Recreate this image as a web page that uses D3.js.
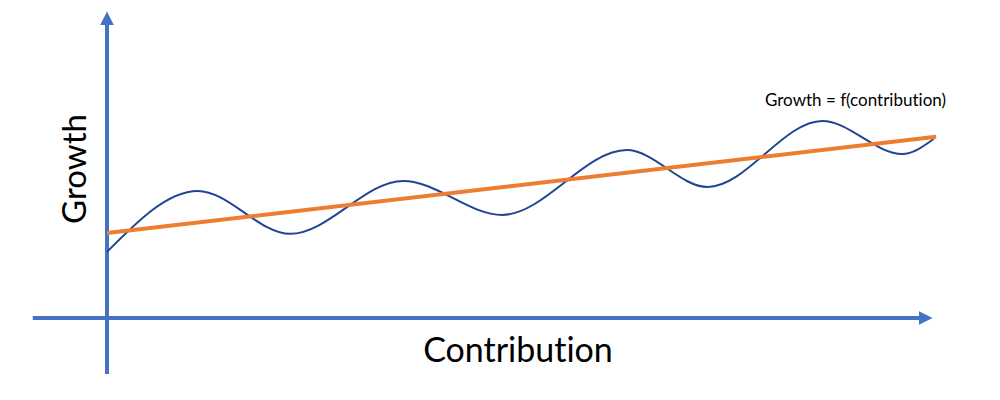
<!DOCTYPE html>
<html>
<head>
<meta charset="utf-8">
<script src="https://cdn.jsdelivr.net/npm/d3@7"></script>
<style>
  body { margin: 0; background: #fff; }
  svg { display: block; }
  text { font-variant-ligatures: none; }
</style>
</head>
<body>
<div id="chart"></div>
<script>
const W = 1000;
const H = 400;

// wavy "observed" curve (contribution, growth), arbitrary units 0..100
const waveX = [0, 11.0, 22.2, 35.9, 47.9, 63.0, 72.8, 86.7, 96.4, 100.2];
const waveY = [21.6, 41.5, 27.5, 44.8, 33.7, 54.9, 42.8, 64.4, 53.6, 58.5];

// fitted straight line
const fitX = [0, 100.5];
const fitY = [27.8, 59.2];

const xLabel = "Contribution";
const yLabel = "Growth";
const fitLabel = "Growth = f(contribution)";

const axisColor = "#4472c4";

const x = d3.scaleLinear().domain([0, 100]).range([107, 932]);
const y = d3.scaleLinear().domain([0, 100]).range([318, 12]);

const svg = d3.select("#chart")
    .append("svg")
    .attr("width", W)
    .attr("height", H);

const defs = svg.append("defs");
defs.append("marker")
    .attr("id", "arrow")
    .attr("viewBox", "0 0 10 10")
    .attr("refX", 0)
    .attr("refY", 5)
    .attr("markerWidth", 3.4)
    .attr("markerHeight", 3.6)
    .attr("markerUnits", "strokeWidth")
    .attr("orient", "auto")
    .append("path")
    .attr("d", "M0,0 L10,5 L0,10 Z")
    .attr("fill", axisColor);

// x axis
svg.append("line")
    .attr("x1", x(-9))
    .attr("y1", y(0))
    .attr("x2", x(100) - 13)
    .attr("y2", y(0))
    .attr("stroke", axisColor)
    .attr("stroke-width", 4)
    .attr("marker-end", "url(#arrow)");

// y axis
svg.append("line")
    .attr("x1", x(0))
    .attr("y1", y(-18.3))
    .attr("x2", x(0))
    .attr("y2", y(100) + 13)
    .attr("stroke", axisColor)
    .attr("stroke-width", 4)
    .attr("marker-end", "url(#arrow)");

const wave = waveX.map((d, i) => [d, waveY[i]]);
const fit = fitX.map((d, i) => [d, fitY[i]]);

const line = d3.line()
    .x((d) => x(d[0]))
    .y((d) => y(d[1]));

svg.append("path")
    .datum(wave)
    .attr("d", line.curve(d3.curveMonotoneX))
    .attr("fill", "none")
    .attr("stroke", "#1f4593")
    .attr("stroke-width", 2);

svg.append("path")
    .datum(fit)
    .attr("d", line.curve(d3.curveLinear))
    .attr("fill", "none")
    .attr("stroke", "#ed7d31")
    .attr("stroke-width", 4);

svg.append("text")
    .attr("x", 518)
    .attr("y", 362)
    .attr("text-anchor", "middle")
    .style("font-family", "Lato, 'Open Sans', sans-serif")
    .style("font-size", "34px")
    .attr("fill", "#000")
    .text(xLabel);

svg.append("text")
    .attr("transform", "translate(86,169) rotate(-90)")
    .attr("text-anchor", "middle")
    .style("font-family", "Lato, 'Open Sans', sans-serif")
    .style("font-size", "33px")
    .attr("fill", "#000")
    .text(yLabel);

svg.append("text")
    .attr("x", 765)
    .attr("y", 106)
    .style("font-family", "Lato, 'Open Sans', sans-serif")
    .style("font-size", "17px")
    .attr("fill", "#000")
    .text(fitLabel);
</script>
</body>
</html>
